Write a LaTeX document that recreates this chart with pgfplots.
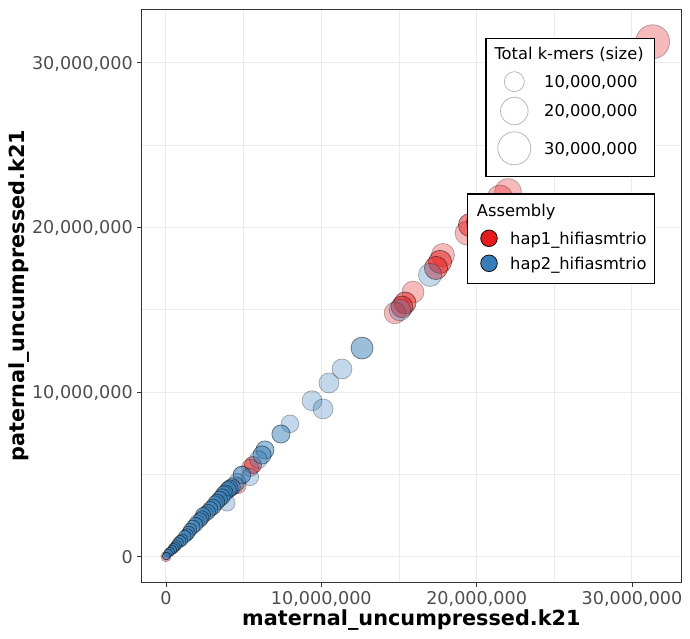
\documentclass[border=0pt]{standalone}
\usepackage{fontspec}
\setmainfont{DejaVu Sans}
\usepackage{pgfplots}
\usepackage{pgfplotstable}
\pgfplotsset{compat=1.18}

\definecolor{hapA}{HTML}{E41A1C}
\definecolor{hapB}{HTML}{377EB8}
\definecolor{ticktext}{HTML}{4D4D4D}
\definecolor{frame}{HTML}{333333}
\definecolor{gridc}{HTML}{EBEBEB}

% x = maternal, y = paternal, s = total k-mers (all in millions), a = alpha
\pgfplotstableread{
x     y     s    a
31.33 31.27 32   0.3
22.02 22.15 19   0.3
21.50 21.78 18   0.3
20.60 21.00 17   0.3
20.10 20.30 15   0.5
19.57 20.14 14   0.5
19.38 19.65 15   0.3
17.83 18.32 14   0.3
17.64 17.90 14   0.5
17.38 17.53 14   0.5
15.90 16.07 12.4 0.3
15.39 15.41 12.4 0.5
15.19 15.17 12   0.5
14.74 14.80 12   0.3
5.60  5.57  7    0.5
5.41  5.39  7    0.3
4.64  4.32  6    0.3
0.00  0.00  1.5  0.3
}\hapone

\pgfplotstableread{
x     y     s    a
17.00 17.11 14   0.3
15.06 14.98 12   0.3
12.62 12.67 12.4 0.5
11.33 11.40 10   0.3
10.49 10.55 10   0.3
9.40  9.47  10   0.3
10.11 8.97  10   0.3
7.98  8.07  7.5  0.3
7.40  7.45  8    0.5
6.37  6.48  8    0.5
6.18  6.18  8    0.5
5.95  5.90  7.5  0.3
4.89  4.96  7.5  0.6
5.41  4.84  7    0.3
4.57  4.54  7    0.3
4.44  4.35  6.5  0.3
4.25  4.23  6.5  0.5
4.10  4.15  6.5  0.5
3.99  4.05  6.5  0.5
3.80  3.87  6    0.5
3.70  3.80  6    0.3
3.61  3.63  6    0.5
3.93  3.26  6    0.3
3.45  3.50  5.5  0.5
3.28  3.32  5.5  0.5
3.15  3.22  5.5  0.3
3.03  3.02  5.5  0.5
2.85  2.90  5    0.5
2.70  2.72  5    0.5
2.55  2.60  5    0.3
2.38  2.53  5    0.5
2.30  2.35  4.5  0.5
2.19  2.23  4.5  0.5
2.00  2.11  4.5  0.3
1.90  1.95  4.5  0.5
1.74  1.80  4    0.5
1.55  1.62  3.5  0.5
1.45  1.45  3.5  0.5
1.35  1.32  3    0.5
1.20  1.22  3    0.5
1.03  1.01  2.5  0.5
0.90  0.93  2.5  0.5
0.77  0.83  2    0.5
0.65  0.68  2    0.5
0.58  0.59  1.5  0.5
0.48  0.50  1.5  0.5
0.39  0.41  1    0.6
0.25  0.30  1    0.6
0.13  0.22  0.5  0.6
0.02  0.04  0.2  0.7
}\haptwo

\pgfplotsset{
  bubble/.style={
    scatter, only marks, mark=*,
    scatter/use mapped color={draw=black, fill=#1},
    visualization depends on={sqrt(14+8.6*\thisrow{s}) \as \msize},
    visualization depends on={\thisrow{a} \as \malpha},
    scatter/@pre marker code/.append style={/tikz/mark size=\msize pt},
    scatter/@pre marker code/.append code={%
      \pgfsetfillopacity{\malpha}\pgfsetstrokeopacity{\malpha}\pgfsetlinewidth{0.7pt}},
  },
}

\begin{document}
\begin{tikzpicture}
\path[use as bounding box] (-141.7pt,-55.7pt) rectangle (548.3pt,582.3pt);
\begin{axis}[
  at={(0pt,0pt)}, anchor=south west,
  scale only axis, width=539.3pt, height=573pt,
  xmin=-1.564, xmax=33.155, ymin=-1.555, ymax=33.24,
  xtick={0,10,20,30}, ytick={0,10,20,30},
  minor xtick={5,15,25}, minor ytick={5,15,25},
  xticklabels={0,{10,000,000},{20,000,000},{30,000,000}},
  yticklabels={0,{10,000,000},{20,000,000},{30,000,000}},
  grid=both,
  major grid style={draw=gridc, line width=1pt},
  minor grid style={draw=gridc, line width=0.5pt},
  axis line style={draw=frame, line width=0.7pt},
  tick align=outside, tick pos=left,
  major tick length=4.4pt, minor tick length=0pt,
  major tick style={draw=frame, line width=0.8pt},
  /pgf/number format/assume math mode=true,
  ticklabel style={font=\fontsize{17.6}{20}\selectfont, text=ticktext},
  xticklabel style={anchor=north, inner sep=0pt, yshift=-4.3pt},
  yticklabel style={anchor=base east, inner sep=0pt, xshift=-4.3pt, yshift=-6.4pt},
  xlabel={maternal\_uncumpressed.k21},
  ylabel={paternal\_uncumpressed.k21},
  label style={font=\bfseries\fontsize{20.8}{24}\selectfont},
  xlabel style={at={(axis description cs:0.5,0)}, anchor=base, yshift=-42.7pt},
  ylabel style={at={(axis description cs:-0.2164,0.5)}, anchor=base},
]
\addplot[bubble=hapA] table {\hapone};
\addplot[bubble=hapB] table {\haptwo};
\end{axis}

% size legend
\draw[black, line width=1.1pt, fill=white] (344.3pt,405.6pt) rectangle (512.8pt,544pt);
\begin{scope}[every node/.style={inner sep=0pt, anchor=base west, font=\fontsize{16.3}{19}\selectfont}]
\node at (352.6pt,523pt) {Total k-mers (size)};
\draw[black!30, line width=0.7pt, fill=white] (372.6pt,500.6pt) circle[radius=10pt];
\draw[black!30, line width=0.7pt, fill=white] (372.6pt,471.3pt) circle[radius=13.8pt];
\draw[black!30, line width=0.7pt, fill=white] (372.6pt,434pt) circle[radius=16.5pt];
\node at (402.3pt,494.6pt) {10,000,000};
\node at (402.3pt,465.3pt) {20,000,000};
\node at (402.3pt,427.6pt) {30,000,000};
\end{scope}

% assembly legend
\draw[black, line width=1.1pt, fill=white] (326pt,299pt) rectangle (512.8pt,388.3pt);
\begin{scope}[every node/.style={inner sep=0pt, anchor=base west, font=\fontsize{16.3}{19}\selectfont}]
\node at (335pt,366.3pt) {Assembly};
\draw[black, line width=0.7pt, fill=hapA] (347.3pt,344pt) circle[radius=8.3pt];
\draw[black, line width=0.7pt, fill=hapB] (347.3pt,319pt) circle[radius=8.3pt];
\node at (368.3pt,338.1pt) {hap1\_hifiasmtrio};
\node at (368.3pt,313.1pt) {hap2\_hifiasmtrio};
\end{scope}
\end{tikzpicture}
\end{document}
